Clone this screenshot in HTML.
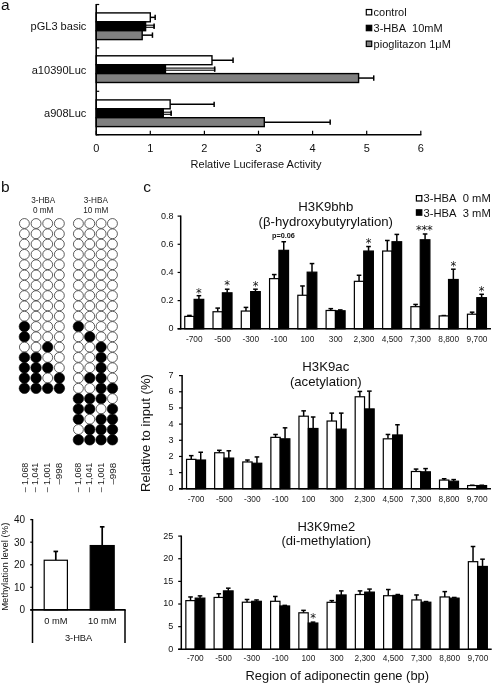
<!DOCTYPE html>
<html lang="en">
<head>
<meta charset="utf-8">
<title>Figure</title>
<style>
html,body{margin:0;padding:0;background:#fff;}
body{width:493px;height:685px;overflow:hidden;}
svg{display:block;font-family:"Liberation Sans", sans-serif;}
</style>
</head>
<body>
<svg width="493" height="685" viewBox="0 0 493 685">
<rect x="0" y="0" width="493" height="685" fill="#fff"/>
<text x="1" y="9.6" font-size="15.5" fill="#111">a</text>
<text x="1" y="192.1" font-size="15.5" fill="#111">b</text>
<text x="143.2" y="192.1" font-size="15.5" fill="#111">c</text>
<line x1="150.30" y1="17.35" x2="155.17" y2="17.35" stroke="#000" stroke-width="1.5"/>
<line x1="155.17" y1="14.65" x2="155.17" y2="20.05" stroke="#000" stroke-width="1.5"/>
<rect x="145.59" y="25.20" width="8.49" height="2.10" fill="#fff" stroke="#000" stroke-width="1.1"/>
<line x1="154.09" y1="23.55" x2="154.09" y2="28.95" stroke="#000" stroke-width="1.5"/>
<line x1="142.19" y1="35.15" x2="152.46" y2="35.15" stroke="#000" stroke-width="1.5"/>
<line x1="152.46" y1="32.45" x2="152.46" y2="37.85" stroke="#000" stroke-width="1.5"/>
<rect x="96.20" y="12.90" width="54.10" height="8.90" fill="#fff" stroke="#000" stroke-width="1.4"/>
<rect x="96.20" y="21.80" width="49.39" height="8.90" fill="#000" stroke="#000" stroke-width="1.4"/>
<rect x="96.20" y="30.70" width="45.98" height="8.90" fill="#808080" stroke="#000" stroke-width="1.4"/>
<text x="86.4" y="29.55" font-size="11.05" text-anchor="end" fill="#111">pGL3 basic</text>
<line x1="211.97" y1="60.25" x2="233.07" y2="60.25" stroke="#000" stroke-width="1.5"/>
<line x1="233.07" y1="57.55" x2="233.07" y2="62.95" stroke="#000" stroke-width="1.5"/>
<rect x="165.45" y="68.10" width="49.23" height="2.10" fill="#fff" stroke="#000" stroke-width="1.1"/>
<line x1="214.68" y1="66.45" x2="214.68" y2="71.85" stroke="#000" stroke-width="1.5"/>
<line x1="358.58" y1="78.05" x2="373.73" y2="78.05" stroke="#000" stroke-width="1.5"/>
<line x1="373.73" y1="75.35" x2="373.73" y2="80.75" stroke="#000" stroke-width="1.5"/>
<rect x="96.20" y="55.80" width="115.77" height="8.90" fill="#fff" stroke="#000" stroke-width="1.4"/>
<rect x="96.20" y="64.70" width="69.25" height="8.90" fill="#000" stroke="#000" stroke-width="1.4"/>
<rect x="96.20" y="73.60" width="262.38" height="8.90" fill="#808080" stroke="#000" stroke-width="1.4"/>
<text x="86.4" y="73.75" font-size="11.05" text-anchor="end" fill="#111">a10390Luc</text>
<line x1="170.15" y1="104.35" x2="214.14" y2="104.35" stroke="#000" stroke-width="1.5"/>
<line x1="214.14" y1="101.65" x2="214.14" y2="107.05" stroke="#000" stroke-width="1.5"/>
<rect x="163.28" y="112.20" width="7.84" height="2.10" fill="#fff" stroke="#000" stroke-width="1.1"/>
<line x1="171.13" y1="110.55" x2="171.13" y2="115.95" stroke="#000" stroke-width="1.5"/>
<line x1="264.29" y1="122.15" x2="330.18" y2="122.15" stroke="#000" stroke-width="1.5"/>
<line x1="330.18" y1="119.45" x2="330.18" y2="124.85" stroke="#000" stroke-width="1.5"/>
<rect x="96.20" y="99.90" width="73.95" height="8.90" fill="#fff" stroke="#000" stroke-width="1.4"/>
<rect x="96.20" y="108.80" width="67.08" height="8.90" fill="#000" stroke="#000" stroke-width="1.4"/>
<rect x="96.20" y="117.70" width="168.09" height="8.90" fill="#808080" stroke="#000" stroke-width="1.4"/>
<text x="86.4" y="116.55" font-size="11.05" text-anchor="end" fill="#111">a908Luc</text>
<line x1="96.20" y1="3.90" x2="96.20" y2="135.40" stroke="#000" stroke-width="1.6"/>
<line x1="96.20" y1="134.70" x2="421.40" y2="134.70" stroke="#000" stroke-width="1.6"/>
<line x1="96.20" y1="4.50" x2="99.20" y2="4.50" stroke="#000" stroke-width="1.2"/>
<line x1="96.20" y1="47.90" x2="99.20" y2="47.90" stroke="#000" stroke-width="1.2"/>
<line x1="96.20" y1="91.30" x2="99.20" y2="91.30" stroke="#000" stroke-width="1.2"/>
<line x1="96.20" y1="134.70" x2="99.20" y2="134.70" stroke="#000" stroke-width="1.2"/>
<line x1="96.20" y1="134.70" x2="96.20" y2="130.70" stroke="#000" stroke-width="1.2"/>
<text x="96.2" y="152.2" font-size="11" text-anchor="middle" fill="#111">0</text>
<line x1="150.30" y1="134.70" x2="150.30" y2="130.70" stroke="#000" stroke-width="1.2"/>
<text x="150.3" y="152.2" font-size="11" text-anchor="middle" fill="#111">1</text>
<line x1="204.40" y1="134.70" x2="204.40" y2="130.70" stroke="#000" stroke-width="1.2"/>
<text x="204.4" y="152.2" font-size="11" text-anchor="middle" fill="#111">2</text>
<line x1="258.50" y1="134.70" x2="258.50" y2="130.70" stroke="#000" stroke-width="1.2"/>
<text x="258.5" y="152.2" font-size="11" text-anchor="middle" fill="#111">3</text>
<line x1="312.60" y1="134.70" x2="312.60" y2="130.70" stroke="#000" stroke-width="1.2"/>
<text x="312.6" y="152.2" font-size="11" text-anchor="middle" fill="#111">4</text>
<line x1="366.70" y1="134.70" x2="366.70" y2="130.70" stroke="#000" stroke-width="1.2"/>
<text x="366.7" y="152.2" font-size="11" text-anchor="middle" fill="#111">5</text>
<line x1="420.80" y1="134.70" x2="420.80" y2="130.70" stroke="#000" stroke-width="1.2"/>
<text x="420.8" y="152.2" font-size="11" text-anchor="middle" fill="#111">6</text>
<text x="256" y="167.6" font-size="11" text-anchor="middle" fill="#111">Relative Luciferase Activity</text>
<rect x="366.30" y="9.50" width="5.40" height="5.40" fill="#fff" stroke="#000" stroke-width="1.2"/>
<text x="373.6" y="16.1" font-size="11" fill="#111">control</text>
<rect x="366.30" y="25.30" width="5.40" height="5.40" fill="#000" stroke="#000" stroke-width="1.2"/>
<text x="373.6" y="31.9" font-size="11" fill="#111">3-HBA  10mM</text>
<rect x="366.30" y="41.10" width="5.40" height="5.40" fill="#808080" stroke="#000" stroke-width="1.2"/>
<text x="373.6" y="47.7" font-size="11" fill="#111">pioglitazon 1μM</text>
<circle cx="24.40" cy="223.50" r="4.95" fill="#fff" stroke="#2a2a2a" stroke-width="0.75"/>
<circle cx="36.05" cy="223.50" r="4.95" fill="#fff" stroke="#2a2a2a" stroke-width="0.75"/>
<circle cx="47.70" cy="223.50" r="4.95" fill="#fff" stroke="#2a2a2a" stroke-width="0.75"/>
<circle cx="59.35" cy="223.50" r="4.95" fill="#fff" stroke="#2a2a2a" stroke-width="0.75"/>
<circle cx="24.40" cy="233.80" r="4.95" fill="#fff" stroke="#2a2a2a" stroke-width="0.75"/>
<circle cx="36.05" cy="233.80" r="4.95" fill="#fff" stroke="#2a2a2a" stroke-width="0.75"/>
<circle cx="47.70" cy="233.80" r="4.95" fill="#fff" stroke="#2a2a2a" stroke-width="0.75"/>
<circle cx="59.35" cy="233.80" r="4.95" fill="#fff" stroke="#2a2a2a" stroke-width="0.75"/>
<circle cx="24.40" cy="244.10" r="4.95" fill="#fff" stroke="#2a2a2a" stroke-width="0.75"/>
<circle cx="36.05" cy="244.10" r="4.95" fill="#fff" stroke="#2a2a2a" stroke-width="0.75"/>
<circle cx="47.70" cy="244.10" r="4.95" fill="#fff" stroke="#2a2a2a" stroke-width="0.75"/>
<circle cx="59.35" cy="244.10" r="4.95" fill="#fff" stroke="#2a2a2a" stroke-width="0.75"/>
<circle cx="24.40" cy="254.40" r="4.95" fill="#fff" stroke="#2a2a2a" stroke-width="0.75"/>
<circle cx="36.05" cy="254.40" r="4.95" fill="#fff" stroke="#2a2a2a" stroke-width="0.75"/>
<circle cx="47.70" cy="254.40" r="4.95" fill="#fff" stroke="#2a2a2a" stroke-width="0.75"/>
<circle cx="59.35" cy="254.40" r="4.95" fill="#fff" stroke="#2a2a2a" stroke-width="0.75"/>
<circle cx="24.40" cy="264.70" r="4.95" fill="#fff" stroke="#2a2a2a" stroke-width="0.75"/>
<circle cx="36.05" cy="264.70" r="4.95" fill="#fff" stroke="#2a2a2a" stroke-width="0.75"/>
<circle cx="47.70" cy="264.70" r="4.95" fill="#fff" stroke="#2a2a2a" stroke-width="0.75"/>
<circle cx="59.35" cy="264.70" r="4.95" fill="#fff" stroke="#2a2a2a" stroke-width="0.75"/>
<circle cx="24.40" cy="275.00" r="4.95" fill="#fff" stroke="#2a2a2a" stroke-width="0.75"/>
<circle cx="36.05" cy="275.00" r="4.95" fill="#fff" stroke="#2a2a2a" stroke-width="0.75"/>
<circle cx="47.70" cy="275.00" r="4.95" fill="#fff" stroke="#2a2a2a" stroke-width="0.75"/>
<circle cx="59.35" cy="275.00" r="4.95" fill="#fff" stroke="#2a2a2a" stroke-width="0.75"/>
<circle cx="24.40" cy="285.30" r="4.95" fill="#fff" stroke="#2a2a2a" stroke-width="0.75"/>
<circle cx="36.05" cy="285.30" r="4.95" fill="#fff" stroke="#2a2a2a" stroke-width="0.75"/>
<circle cx="47.70" cy="285.30" r="4.95" fill="#fff" stroke="#2a2a2a" stroke-width="0.75"/>
<circle cx="59.35" cy="285.30" r="4.95" fill="#fff" stroke="#2a2a2a" stroke-width="0.75"/>
<circle cx="24.40" cy="295.60" r="4.95" fill="#fff" stroke="#2a2a2a" stroke-width="0.75"/>
<circle cx="36.05" cy="295.60" r="4.95" fill="#fff" stroke="#2a2a2a" stroke-width="0.75"/>
<circle cx="47.70" cy="295.60" r="4.95" fill="#fff" stroke="#2a2a2a" stroke-width="0.75"/>
<circle cx="59.35" cy="295.60" r="4.95" fill="#fff" stroke="#2a2a2a" stroke-width="0.75"/>
<circle cx="24.40" cy="305.90" r="4.95" fill="#fff" stroke="#2a2a2a" stroke-width="0.75"/>
<circle cx="36.05" cy="305.90" r="4.95" fill="#fff" stroke="#2a2a2a" stroke-width="0.75"/>
<circle cx="47.70" cy="305.90" r="4.95" fill="#fff" stroke="#2a2a2a" stroke-width="0.75"/>
<circle cx="59.35" cy="305.90" r="4.95" fill="#fff" stroke="#2a2a2a" stroke-width="0.75"/>
<circle cx="24.40" cy="316.20" r="4.95" fill="#fff" stroke="#2a2a2a" stroke-width="0.75"/>
<circle cx="36.05" cy="316.20" r="4.95" fill="#fff" stroke="#2a2a2a" stroke-width="0.75"/>
<circle cx="47.70" cy="316.20" r="4.95" fill="#fff" stroke="#2a2a2a" stroke-width="0.75"/>
<circle cx="59.35" cy="316.20" r="4.95" fill="#fff" stroke="#2a2a2a" stroke-width="0.75"/>
<circle cx="24.40" cy="326.50" r="5.25" fill="#000" stroke="#000" stroke-width="0.6"/>
<circle cx="36.05" cy="326.50" r="4.95" fill="#fff" stroke="#2a2a2a" stroke-width="0.75"/>
<circle cx="47.70" cy="326.50" r="4.95" fill="#fff" stroke="#2a2a2a" stroke-width="0.75"/>
<circle cx="59.35" cy="326.50" r="4.95" fill="#fff" stroke="#2a2a2a" stroke-width="0.75"/>
<circle cx="24.40" cy="336.80" r="5.25" fill="#000" stroke="#000" stroke-width="0.6"/>
<circle cx="36.05" cy="336.80" r="4.95" fill="#fff" stroke="#2a2a2a" stroke-width="0.75"/>
<circle cx="47.70" cy="336.80" r="4.95" fill="#fff" stroke="#2a2a2a" stroke-width="0.75"/>
<circle cx="59.35" cy="336.80" r="4.95" fill="#fff" stroke="#2a2a2a" stroke-width="0.75"/>
<circle cx="24.40" cy="347.10" r="4.95" fill="#fff" stroke="#2a2a2a" stroke-width="0.75"/>
<circle cx="36.05" cy="347.10" r="4.95" fill="#fff" stroke="#2a2a2a" stroke-width="0.75"/>
<circle cx="47.70" cy="347.10" r="5.25" fill="#000" stroke="#000" stroke-width="0.6"/>
<circle cx="59.35" cy="347.10" r="4.95" fill="#fff" stroke="#2a2a2a" stroke-width="0.75"/>
<circle cx="24.40" cy="357.40" r="5.25" fill="#000" stroke="#000" stroke-width="0.6"/>
<circle cx="36.05" cy="357.40" r="5.25" fill="#000" stroke="#000" stroke-width="0.6"/>
<circle cx="47.70" cy="357.40" r="4.95" fill="#fff" stroke="#2a2a2a" stroke-width="0.75"/>
<circle cx="59.35" cy="357.40" r="4.95" fill="#fff" stroke="#2a2a2a" stroke-width="0.75"/>
<circle cx="24.40" cy="367.70" r="5.25" fill="#000" stroke="#000" stroke-width="0.6"/>
<circle cx="36.05" cy="367.70" r="5.25" fill="#000" stroke="#000" stroke-width="0.6"/>
<circle cx="47.70" cy="367.70" r="5.25" fill="#000" stroke="#000" stroke-width="0.6"/>
<circle cx="59.35" cy="367.70" r="4.95" fill="#fff" stroke="#2a2a2a" stroke-width="0.75"/>
<circle cx="24.40" cy="378.00" r="5.25" fill="#000" stroke="#000" stroke-width="0.6"/>
<circle cx="36.05" cy="378.00" r="5.25" fill="#000" stroke="#000" stroke-width="0.6"/>
<circle cx="47.70" cy="378.00" r="4.95" fill="#fff" stroke="#2a2a2a" stroke-width="0.75"/>
<circle cx="59.35" cy="378.00" r="5.25" fill="#000" stroke="#000" stroke-width="0.6"/>
<circle cx="24.40" cy="388.30" r="5.25" fill="#000" stroke="#000" stroke-width="0.6"/>
<circle cx="36.05" cy="388.30" r="5.25" fill="#000" stroke="#000" stroke-width="0.6"/>
<circle cx="47.70" cy="388.30" r="5.25" fill="#000" stroke="#000" stroke-width="0.6"/>
<circle cx="59.35" cy="388.30" r="5.25" fill="#000" stroke="#000" stroke-width="0.6"/>
<circle cx="78.40" cy="223.50" r="4.95" fill="#fff" stroke="#2a2a2a" stroke-width="0.75"/>
<circle cx="89.75" cy="223.50" r="4.95" fill="#fff" stroke="#2a2a2a" stroke-width="0.75"/>
<circle cx="101.10" cy="223.50" r="4.95" fill="#fff" stroke="#2a2a2a" stroke-width="0.75"/>
<circle cx="112.45" cy="223.50" r="4.95" fill="#fff" stroke="#2a2a2a" stroke-width="0.75"/>
<circle cx="78.40" cy="233.80" r="4.95" fill="#fff" stroke="#2a2a2a" stroke-width="0.75"/>
<circle cx="89.75" cy="233.80" r="4.95" fill="#fff" stroke="#2a2a2a" stroke-width="0.75"/>
<circle cx="101.10" cy="233.80" r="4.95" fill="#fff" stroke="#2a2a2a" stroke-width="0.75"/>
<circle cx="112.45" cy="233.80" r="4.95" fill="#fff" stroke="#2a2a2a" stroke-width="0.75"/>
<circle cx="78.40" cy="244.10" r="4.95" fill="#fff" stroke="#2a2a2a" stroke-width="0.75"/>
<circle cx="89.75" cy="244.10" r="4.95" fill="#fff" stroke="#2a2a2a" stroke-width="0.75"/>
<circle cx="101.10" cy="244.10" r="4.95" fill="#fff" stroke="#2a2a2a" stroke-width="0.75"/>
<circle cx="112.45" cy="244.10" r="4.95" fill="#fff" stroke="#2a2a2a" stroke-width="0.75"/>
<circle cx="78.40" cy="254.40" r="4.95" fill="#fff" stroke="#2a2a2a" stroke-width="0.75"/>
<circle cx="89.75" cy="254.40" r="4.95" fill="#fff" stroke="#2a2a2a" stroke-width="0.75"/>
<circle cx="101.10" cy="254.40" r="4.95" fill="#fff" stroke="#2a2a2a" stroke-width="0.75"/>
<circle cx="112.45" cy="254.40" r="4.95" fill="#fff" stroke="#2a2a2a" stroke-width="0.75"/>
<circle cx="78.40" cy="264.70" r="4.95" fill="#fff" stroke="#2a2a2a" stroke-width="0.75"/>
<circle cx="89.75" cy="264.70" r="4.95" fill="#fff" stroke="#2a2a2a" stroke-width="0.75"/>
<circle cx="101.10" cy="264.70" r="4.95" fill="#fff" stroke="#2a2a2a" stroke-width="0.75"/>
<circle cx="112.45" cy="264.70" r="4.95" fill="#fff" stroke="#2a2a2a" stroke-width="0.75"/>
<circle cx="78.40" cy="275.00" r="4.95" fill="#fff" stroke="#2a2a2a" stroke-width="0.75"/>
<circle cx="89.75" cy="275.00" r="4.95" fill="#fff" stroke="#2a2a2a" stroke-width="0.75"/>
<circle cx="101.10" cy="275.00" r="4.95" fill="#fff" stroke="#2a2a2a" stroke-width="0.75"/>
<circle cx="112.45" cy="275.00" r="4.95" fill="#fff" stroke="#2a2a2a" stroke-width="0.75"/>
<circle cx="78.40" cy="285.30" r="4.95" fill="#fff" stroke="#2a2a2a" stroke-width="0.75"/>
<circle cx="89.75" cy="285.30" r="4.95" fill="#fff" stroke="#2a2a2a" stroke-width="0.75"/>
<circle cx="101.10" cy="285.30" r="4.95" fill="#fff" stroke="#2a2a2a" stroke-width="0.75"/>
<circle cx="112.45" cy="285.30" r="4.95" fill="#fff" stroke="#2a2a2a" stroke-width="0.75"/>
<circle cx="78.40" cy="295.60" r="4.95" fill="#fff" stroke="#2a2a2a" stroke-width="0.75"/>
<circle cx="89.75" cy="295.60" r="4.95" fill="#fff" stroke="#2a2a2a" stroke-width="0.75"/>
<circle cx="101.10" cy="295.60" r="4.95" fill="#fff" stroke="#2a2a2a" stroke-width="0.75"/>
<circle cx="112.45" cy="295.60" r="4.95" fill="#fff" stroke="#2a2a2a" stroke-width="0.75"/>
<circle cx="78.40" cy="305.90" r="4.95" fill="#fff" stroke="#2a2a2a" stroke-width="0.75"/>
<circle cx="89.75" cy="305.90" r="4.95" fill="#fff" stroke="#2a2a2a" stroke-width="0.75"/>
<circle cx="101.10" cy="305.90" r="4.95" fill="#fff" stroke="#2a2a2a" stroke-width="0.75"/>
<circle cx="112.45" cy="305.90" r="4.95" fill="#fff" stroke="#2a2a2a" stroke-width="0.75"/>
<circle cx="78.40" cy="316.20" r="4.95" fill="#fff" stroke="#2a2a2a" stroke-width="0.75"/>
<circle cx="89.75" cy="316.20" r="4.95" fill="#fff" stroke="#2a2a2a" stroke-width="0.75"/>
<circle cx="101.10" cy="316.20" r="4.95" fill="#fff" stroke="#2a2a2a" stroke-width="0.75"/>
<circle cx="112.45" cy="316.20" r="4.95" fill="#fff" stroke="#2a2a2a" stroke-width="0.75"/>
<circle cx="78.40" cy="326.50" r="5.25" fill="#000" stroke="#000" stroke-width="0.6"/>
<circle cx="89.75" cy="326.50" r="4.95" fill="#fff" stroke="#2a2a2a" stroke-width="0.75"/>
<circle cx="101.10" cy="326.50" r="4.95" fill="#fff" stroke="#2a2a2a" stroke-width="0.75"/>
<circle cx="112.45" cy="326.50" r="4.95" fill="#fff" stroke="#2a2a2a" stroke-width="0.75"/>
<circle cx="78.40" cy="336.80" r="4.95" fill="#fff" stroke="#2a2a2a" stroke-width="0.75"/>
<circle cx="89.75" cy="336.80" r="5.25" fill="#000" stroke="#000" stroke-width="0.6"/>
<circle cx="101.10" cy="336.80" r="4.95" fill="#fff" stroke="#2a2a2a" stroke-width="0.75"/>
<circle cx="112.45" cy="336.80" r="4.95" fill="#fff" stroke="#2a2a2a" stroke-width="0.75"/>
<circle cx="78.40" cy="347.10" r="4.95" fill="#fff" stroke="#2a2a2a" stroke-width="0.75"/>
<circle cx="89.75" cy="347.10" r="4.95" fill="#fff" stroke="#2a2a2a" stroke-width="0.75"/>
<circle cx="101.10" cy="347.10" r="5.25" fill="#000" stroke="#000" stroke-width="0.6"/>
<circle cx="112.45" cy="347.10" r="4.95" fill="#fff" stroke="#2a2a2a" stroke-width="0.75"/>
<circle cx="78.40" cy="357.40" r="4.95" fill="#fff" stroke="#2a2a2a" stroke-width="0.75"/>
<circle cx="89.75" cy="357.40" r="4.95" fill="#fff" stroke="#2a2a2a" stroke-width="0.75"/>
<circle cx="101.10" cy="357.40" r="5.25" fill="#000" stroke="#000" stroke-width="0.6"/>
<circle cx="112.45" cy="357.40" r="4.95" fill="#fff" stroke="#2a2a2a" stroke-width="0.75"/>
<circle cx="78.40" cy="367.70" r="4.95" fill="#fff" stroke="#2a2a2a" stroke-width="0.75"/>
<circle cx="89.75" cy="367.70" r="4.95" fill="#fff" stroke="#2a2a2a" stroke-width="0.75"/>
<circle cx="101.10" cy="367.70" r="5.25" fill="#000" stroke="#000" stroke-width="0.6"/>
<circle cx="112.45" cy="367.70" r="4.95" fill="#fff" stroke="#2a2a2a" stroke-width="0.75"/>
<circle cx="78.40" cy="378.00" r="4.95" fill="#fff" stroke="#2a2a2a" stroke-width="0.75"/>
<circle cx="89.75" cy="378.00" r="5.25" fill="#000" stroke="#000" stroke-width="0.6"/>
<circle cx="101.10" cy="378.00" r="5.25" fill="#000" stroke="#000" stroke-width="0.6"/>
<circle cx="112.45" cy="378.00" r="4.95" fill="#fff" stroke="#2a2a2a" stroke-width="0.75"/>
<circle cx="78.40" cy="388.30" r="4.95" fill="#fff" stroke="#2a2a2a" stroke-width="0.75"/>
<circle cx="89.75" cy="388.30" r="4.95" fill="#fff" stroke="#2a2a2a" stroke-width="0.75"/>
<circle cx="101.10" cy="388.30" r="5.25" fill="#000" stroke="#000" stroke-width="0.6"/>
<circle cx="112.45" cy="388.30" r="5.25" fill="#000" stroke="#000" stroke-width="0.6"/>
<circle cx="78.40" cy="398.60" r="5.25" fill="#000" stroke="#000" stroke-width="0.6"/>
<circle cx="89.75" cy="398.60" r="5.25" fill="#000" stroke="#000" stroke-width="0.6"/>
<circle cx="101.10" cy="398.60" r="5.25" fill="#000" stroke="#000" stroke-width="0.6"/>
<circle cx="112.45" cy="398.60" r="4.95" fill="#fff" stroke="#2a2a2a" stroke-width="0.75"/>
<circle cx="78.40" cy="408.90" r="5.25" fill="#000" stroke="#000" stroke-width="0.6"/>
<circle cx="89.75" cy="408.90" r="5.25" fill="#000" stroke="#000" stroke-width="0.6"/>
<circle cx="101.10" cy="408.90" r="4.95" fill="#fff" stroke="#2a2a2a" stroke-width="0.75"/>
<circle cx="112.45" cy="408.90" r="5.25" fill="#000" stroke="#000" stroke-width="0.6"/>
<circle cx="78.40" cy="419.20" r="5.25" fill="#000" stroke="#000" stroke-width="0.6"/>
<circle cx="89.75" cy="419.20" r="4.95" fill="#fff" stroke="#2a2a2a" stroke-width="0.75"/>
<circle cx="101.10" cy="419.20" r="5.25" fill="#000" stroke="#000" stroke-width="0.6"/>
<circle cx="112.45" cy="419.20" r="5.25" fill="#000" stroke="#000" stroke-width="0.6"/>
<circle cx="78.40" cy="429.50" r="4.95" fill="#fff" stroke="#2a2a2a" stroke-width="0.75"/>
<circle cx="89.75" cy="429.50" r="5.25" fill="#000" stroke="#000" stroke-width="0.6"/>
<circle cx="101.10" cy="429.50" r="5.25" fill="#000" stroke="#000" stroke-width="0.6"/>
<circle cx="112.45" cy="429.50" r="5.25" fill="#000" stroke="#000" stroke-width="0.6"/>
<circle cx="78.40" cy="439.80" r="5.25" fill="#000" stroke="#000" stroke-width="0.6"/>
<circle cx="89.75" cy="439.80" r="5.25" fill="#000" stroke="#000" stroke-width="0.6"/>
<circle cx="101.10" cy="439.80" r="5.25" fill="#000" stroke="#000" stroke-width="0.6"/>
<circle cx="112.45" cy="439.80" r="5.25" fill="#000" stroke="#000" stroke-width="0.6"/>
<text x="43.2" y="203.0" font-size="8.2" text-anchor="middle" fill="#222">3-HBA</text>
<text x="43.2" y="212.8" font-size="8.2" text-anchor="middle" fill="#222">0 mM</text>
<text x="95.8" y="203.0" font-size="8.2" text-anchor="middle" fill="#222">3-HBA</text>
<text x="95.8" y="212.8" font-size="8.2" text-anchor="middle" fill="#222">10 mM</text>
<text x="27.6" y="462.7" font-size="9.4" text-anchor="end" transform="rotate(-90 27.6 462.7)" fill="#222" textLength="29.6" lengthAdjust="spacingAndGlyphs">– 1,068</text>
<text x="38.2" y="462.7" font-size="9.4" text-anchor="end" transform="rotate(-90 38.2 462.7)" fill="#222" textLength="29.6" lengthAdjust="spacingAndGlyphs">– 1,041</text>
<text x="49.8" y="462.7" font-size="9.4" text-anchor="end" transform="rotate(-90 49.8 462.7)" fill="#222" textLength="29.6" lengthAdjust="spacingAndGlyphs">– 1,001</text>
<text x="62.0" y="462.7" font-size="9.4" text-anchor="end" transform="rotate(-90 62.0 462.7)" fill="#222" textLength="21.9" lengthAdjust="spacingAndGlyphs">–998</text>
<text x="81.3" y="462.7" font-size="9.4" text-anchor="end" transform="rotate(-90 81.3 462.7)" fill="#222" textLength="29.6" lengthAdjust="spacingAndGlyphs">– 1,068</text>
<text x="92.3" y="462.7" font-size="9.4" text-anchor="end" transform="rotate(-90 92.3 462.7)" fill="#222" textLength="29.6" lengthAdjust="spacingAndGlyphs">– 1,041</text>
<text x="103.85" y="462.7" font-size="9.4" text-anchor="end" transform="rotate(-90 103.85 462.7)" fill="#222" textLength="29.6" lengthAdjust="spacingAndGlyphs">– 1,001</text>
<text x="115.6" y="462.7" font-size="9.4" text-anchor="end" transform="rotate(-90 115.6 462.7)" fill="#222" textLength="21.9" lengthAdjust="spacingAndGlyphs">–998</text>
<line x1="32.50" y1="519.00" x2="32.50" y2="643.00" stroke="#000" stroke-width="1.5"/>
<line x1="125.00" y1="609.90" x2="125.00" y2="643.00" stroke="#000" stroke-width="1.5"/>
<line x1="30.30" y1="609.90" x2="32.50" y2="609.90" stroke="#000" stroke-width="1.3"/>
<text x="25.0" y="613.4" font-size="10" text-anchor="end" fill="#111">0</text>
<line x1="30.30" y1="587.33" x2="32.50" y2="587.33" stroke="#000" stroke-width="1.3"/>
<text x="25.0" y="590.8" font-size="10" text-anchor="end" fill="#111">10</text>
<line x1="30.30" y1="564.75" x2="32.50" y2="564.75" stroke="#000" stroke-width="1.3"/>
<text x="25.0" y="568.2" font-size="10" text-anchor="end" fill="#111">20</text>
<line x1="30.30" y1="542.17" x2="32.50" y2="542.17" stroke="#000" stroke-width="1.3"/>
<text x="25.0" y="545.7" font-size="10" text-anchor="end" fill="#111">30</text>
<line x1="30.30" y1="519.60" x2="32.50" y2="519.60" stroke="#000" stroke-width="1.3"/>
<text x="25.0" y="523.1" font-size="10" text-anchor="end" fill="#111">40</text>
<line x1="55.80" y1="560.24" x2="55.80" y2="551.43" stroke="#000" stroke-width="1.7"/>
<line x1="53.50" y1="551.43" x2="58.10" y2="551.43" stroke="#000" stroke-width="1.7"/>
<rect x="44.20" y="560.24" width="23.20" height="49.66" fill="#fff" stroke="#000" stroke-width="1.2"/>
<line x1="102.20" y1="545.56" x2="102.20" y2="526.82" stroke="#000" stroke-width="1.7"/>
<line x1="99.90" y1="526.82" x2="104.50" y2="526.82" stroke="#000" stroke-width="1.7"/>
<rect x="90.20" y="545.56" width="24.00" height="64.34" fill="#000" stroke="#000" stroke-width="1.2"/>
<line x1="30.30" y1="609.90" x2="125.70" y2="609.90" stroke="#000" stroke-width="1.6"/>
<text x="55.8" y="624.3" font-size="9.3" text-anchor="middle" fill="#111">0 mM</text>
<text x="102.3" y="624.3" font-size="9.3" text-anchor="middle" fill="#111">10 mM</text>
<text x="78.6" y="641.3" font-size="9.3" text-anchor="middle" fill="#111">3-HBA</text>
<text x="8.0" y="610.8" font-size="9.5" transform="rotate(-90 8.0 610.8)" fill="#111">Methylation level (%)</text>
<line x1="189.43" y1="316.40" x2="189.43" y2="315.42" stroke="#000" stroke-width="1.5"/>
<line x1="187.12" y1="315.42" x2="191.73" y2="315.42" stroke="#000" stroke-width="1.5"/>
<rect x="184.75" y="316.40" width="9.35" height="12.40" fill="#fff" stroke="#000" stroke-width="1.2"/>
<line x1="198.92" y1="299.36" x2="198.92" y2="295.69" stroke="#000" stroke-width="1.5"/>
<line x1="196.62" y1="295.69" x2="201.22" y2="295.69" stroke="#000" stroke-width="1.5"/>
<rect x="194.10" y="299.36" width="9.65" height="29.44" fill="#000" stroke="#000" stroke-width="1.2"/>
<text x="194.3" y="342.0" font-size="8.3" text-anchor="middle" fill="#1a1a1a">-700</text>
<line x1="217.70" y1="311.75" x2="217.70" y2="308.09" stroke="#000" stroke-width="1.5"/>
<line x1="215.40" y1="308.09" x2="220.00" y2="308.09" stroke="#000" stroke-width="1.5"/>
<rect x="213.02" y="311.75" width="9.35" height="17.05" fill="#fff" stroke="#000" stroke-width="1.2"/>
<line x1="227.19" y1="292.81" x2="227.19" y2="289.21" stroke="#000" stroke-width="1.5"/>
<line x1="224.89" y1="289.21" x2="229.50" y2="289.21" stroke="#000" stroke-width="1.5"/>
<rect x="222.37" y="292.81" width="9.65" height="35.99" fill="#000" stroke="#000" stroke-width="1.2"/>
<text x="222.6" y="342.0" font-size="8.3" text-anchor="middle" fill="#1a1a1a">-500</text>
<line x1="245.97" y1="311.05" x2="245.97" y2="307.39" stroke="#000" stroke-width="1.5"/>
<line x1="243.66" y1="307.39" x2="248.27" y2="307.39" stroke="#000" stroke-width="1.5"/>
<rect x="241.29" y="311.05" width="9.35" height="17.75" fill="#fff" stroke="#000" stroke-width="1.2"/>
<line x1="255.46" y1="291.61" x2="255.46" y2="289.21" stroke="#000" stroke-width="1.5"/>
<line x1="253.16" y1="289.21" x2="257.76" y2="289.21" stroke="#000" stroke-width="1.5"/>
<rect x="250.64" y="291.61" width="9.65" height="37.19" fill="#000" stroke="#000" stroke-width="1.2"/>
<text x="250.8" y="342.0" font-size="8.3" text-anchor="middle" fill="#1a1a1a">-300</text>
<line x1="274.24" y1="278.65" x2="274.24" y2="274.56" stroke="#000" stroke-width="1.5"/>
<line x1="271.94" y1="274.56" x2="276.54" y2="274.56" stroke="#000" stroke-width="1.5"/>
<rect x="269.56" y="278.65" width="9.35" height="50.15" fill="#fff" stroke="#000" stroke-width="1.2"/>
<line x1="283.74" y1="250.33" x2="283.74" y2="241.74" stroke="#000" stroke-width="1.5"/>
<line x1="281.44" y1="241.74" x2="286.04" y2="241.74" stroke="#000" stroke-width="1.5"/>
<rect x="278.91" y="250.33" width="9.65" height="78.47" fill="#000" stroke="#000" stroke-width="1.2"/>
<text x="279.1" y="342.0" font-size="8.3" text-anchor="middle" fill="#1a1a1a">-100</text>
<line x1="302.50" y1="295.27" x2="302.50" y2="285.97" stroke="#000" stroke-width="1.5"/>
<line x1="300.20" y1="285.97" x2="304.81" y2="285.97" stroke="#000" stroke-width="1.5"/>
<rect x="297.83" y="295.27" width="9.35" height="33.53" fill="#fff" stroke="#000" stroke-width="1.2"/>
<line x1="312.00" y1="272.17" x2="312.00" y2="263.57" stroke="#000" stroke-width="1.5"/>
<line x1="309.70" y1="263.57" x2="314.31" y2="263.57" stroke="#000" stroke-width="1.5"/>
<rect x="307.18" y="272.17" width="9.65" height="56.63" fill="#000" stroke="#000" stroke-width="1.2"/>
<text x="307.4" y="342.0" font-size="8.3" text-anchor="middle" fill="#1a1a1a">100</text>
<line x1="330.78" y1="310.49" x2="330.78" y2="308.65" stroke="#000" stroke-width="1.5"/>
<line x1="328.48" y1="308.65" x2="333.08" y2="308.65" stroke="#000" stroke-width="1.5"/>
<rect x="326.10" y="310.49" width="9.35" height="18.31" fill="#fff" stroke="#000" stroke-width="1.2"/>
<line x1="340.28" y1="310.77" x2="340.28" y2="309.92" stroke="#000" stroke-width="1.5"/>
<line x1="337.98" y1="309.92" x2="342.58" y2="309.92" stroke="#000" stroke-width="1.5"/>
<rect x="335.45" y="310.77" width="9.65" height="18.03" fill="#000" stroke="#000" stroke-width="1.2"/>
<text x="335.7" y="342.0" font-size="8.3" text-anchor="middle" fill="#1a1a1a">300</text>
<line x1="359.05" y1="281.33" x2="359.05" y2="275.27" stroke="#000" stroke-width="1.5"/>
<line x1="356.75" y1="275.27" x2="361.35" y2="275.27" stroke="#000" stroke-width="1.5"/>
<rect x="354.37" y="281.33" width="9.35" height="47.47" fill="#fff" stroke="#000" stroke-width="1.2"/>
<line x1="368.55" y1="251.04" x2="368.55" y2="246.53" stroke="#000" stroke-width="1.5"/>
<line x1="366.25" y1="246.53" x2="370.85" y2="246.53" stroke="#000" stroke-width="1.5"/>
<rect x="363.72" y="251.04" width="9.65" height="77.76" fill="#000" stroke="#000" stroke-width="1.2"/>
<text x="363.9" y="342.0" font-size="8.3" text-anchor="middle" fill="#1a1a1a">2,300</text>
<line x1="387.31" y1="251.04" x2="387.31" y2="240.47" stroke="#000" stroke-width="1.5"/>
<line x1="385.01" y1="240.47" x2="389.62" y2="240.47" stroke="#000" stroke-width="1.5"/>
<rect x="382.64" y="251.04" width="9.35" height="77.76" fill="#fff" stroke="#000" stroke-width="1.2"/>
<line x1="396.81" y1="241.74" x2="396.81" y2="234.41" stroke="#000" stroke-width="1.5"/>
<line x1="394.51" y1="234.41" x2="399.12" y2="234.41" stroke="#000" stroke-width="1.5"/>
<rect x="391.99" y="241.74" width="9.65" height="87.06" fill="#000" stroke="#000" stroke-width="1.2"/>
<text x="392.2" y="342.0" font-size="8.3" text-anchor="middle" fill="#1a1a1a">4,500</text>
<line x1="415.58" y1="306.68" x2="415.58" y2="304.43" stroke="#000" stroke-width="1.5"/>
<line x1="413.28" y1="304.43" x2="417.88" y2="304.43" stroke="#000" stroke-width="1.5"/>
<rect x="410.91" y="306.68" width="9.35" height="22.12" fill="#fff" stroke="#000" stroke-width="1.2"/>
<line x1="425.08" y1="239.77" x2="425.08" y2="233.99" stroke="#000" stroke-width="1.5"/>
<line x1="422.78" y1="233.99" x2="427.38" y2="233.99" stroke="#000" stroke-width="1.5"/>
<rect x="420.26" y="239.77" width="9.65" height="89.03" fill="#000" stroke="#000" stroke-width="1.2"/>
<text x="420.5" y="342.0" font-size="8.3" text-anchor="middle" fill="#1a1a1a">7,300</text>
<line x1="443.86" y1="315.91" x2="443.86" y2="315.56" stroke="#000" stroke-width="1.5"/>
<line x1="441.56" y1="315.56" x2="446.16" y2="315.56" stroke="#000" stroke-width="1.5"/>
<rect x="439.18" y="315.91" width="9.35" height="12.89" fill="#fff" stroke="#000" stroke-width="1.2"/>
<line x1="453.36" y1="279.49" x2="453.36" y2="269.21" stroke="#000" stroke-width="1.5"/>
<line x1="451.06" y1="269.21" x2="455.66" y2="269.21" stroke="#000" stroke-width="1.5"/>
<rect x="448.53" y="279.49" width="9.65" height="49.31" fill="#000" stroke="#000" stroke-width="1.2"/>
<text x="448.7" y="342.0" font-size="8.3" text-anchor="middle" fill="#1a1a1a">8,800</text>
<line x1="472.12" y1="314.22" x2="472.12" y2="312.18" stroke="#000" stroke-width="1.5"/>
<line x1="469.82" y1="312.18" x2="474.43" y2="312.18" stroke="#000" stroke-width="1.5"/>
<rect x="467.45" y="314.22" width="9.35" height="14.58" fill="#fff" stroke="#000" stroke-width="1.2"/>
<line x1="481.62" y1="297.67" x2="481.62" y2="294.29" stroke="#000" stroke-width="1.5"/>
<line x1="479.32" y1="294.29" x2="483.93" y2="294.29" stroke="#000" stroke-width="1.5"/>
<rect x="476.80" y="297.67" width="9.65" height="31.13" fill="#000" stroke="#000" stroke-width="1.2"/>
<text x="477.0" y="342.0" font-size="8.3" text-anchor="middle" fill="#1a1a1a">9,700</text>
<line x1="180.70" y1="215.50" x2="180.70" y2="329.50" stroke="#000" stroke-width="1.5"/>
<line x1="177.60" y1="328.80" x2="491.00" y2="328.80" stroke="#000" stroke-width="1.6"/>
<line x1="177.60" y1="328.80" x2="180.70" y2="328.80" stroke="#000" stroke-width="1.2"/>
<text x="173.6" y="331.2" font-size="9" text-anchor="end" fill="#111">0</text>
<line x1="177.60" y1="300.62" x2="180.70" y2="300.62" stroke="#000" stroke-width="1.2"/>
<text x="173.6" y="303.0" font-size="9" text-anchor="end" fill="#111">0.2</text>
<line x1="177.60" y1="272.45" x2="180.70" y2="272.45" stroke="#000" stroke-width="1.2"/>
<text x="173.6" y="274.8" font-size="9" text-anchor="end" fill="#111">0.4</text>
<line x1="177.60" y1="244.28" x2="180.70" y2="244.28" stroke="#000" stroke-width="1.2"/>
<text x="173.6" y="246.7" font-size="9" text-anchor="end" fill="#111">0.6</text>
<line x1="177.60" y1="216.10" x2="180.70" y2="216.10" stroke="#000" stroke-width="1.2"/>
<text x="173.6" y="218.5" font-size="9" text-anchor="end" fill="#111">0.8</text>
<line x1="191.23" y1="459.37" x2="191.23" y2="455.65" stroke="#000" stroke-width="1.5"/>
<line x1="188.93" y1="455.65" x2="193.53" y2="455.65" stroke="#000" stroke-width="1.5"/>
<rect x="186.55" y="459.37" width="9.35" height="29.43" fill="#fff" stroke="#000" stroke-width="1.2"/>
<line x1="200.72" y1="460.01" x2="200.72" y2="452.25" stroke="#000" stroke-width="1.5"/>
<line x1="198.42" y1="452.25" x2="203.03" y2="452.25" stroke="#000" stroke-width="1.5"/>
<rect x="195.90" y="460.01" width="9.65" height="28.79" fill="#000" stroke="#000" stroke-width="1.2"/>
<text x="196.1" y="501.8" font-size="8.3" text-anchor="middle" fill="#1a1a1a">-700</text>
<line x1="219.33" y1="452.74" x2="219.33" y2="450.31" stroke="#000" stroke-width="1.5"/>
<line x1="217.03" y1="450.31" x2="221.63" y2="450.31" stroke="#000" stroke-width="1.5"/>
<rect x="214.66" y="452.74" width="9.35" height="36.06" fill="#fff" stroke="#000" stroke-width="1.2"/>
<line x1="228.83" y1="458.07" x2="228.83" y2="450.80" stroke="#000" stroke-width="1.5"/>
<line x1="226.53" y1="450.80" x2="231.13" y2="450.80" stroke="#000" stroke-width="1.5"/>
<rect x="224.00" y="458.07" width="9.65" height="30.73" fill="#000" stroke="#000" stroke-width="1.2"/>
<text x="224.2" y="501.8" font-size="8.3" text-anchor="middle" fill="#1a1a1a">-500</text>
<line x1="247.44" y1="461.96" x2="247.44" y2="460.01" stroke="#000" stroke-width="1.5"/>
<line x1="245.14" y1="460.01" x2="249.74" y2="460.01" stroke="#000" stroke-width="1.5"/>
<rect x="242.76" y="461.96" width="9.35" height="26.84" fill="#fff" stroke="#000" stroke-width="1.2"/>
<line x1="256.94" y1="463.25" x2="256.94" y2="456.94" stroke="#000" stroke-width="1.5"/>
<line x1="254.63" y1="456.94" x2="259.24" y2="456.94" stroke="#000" stroke-width="1.5"/>
<rect x="252.11" y="463.25" width="9.65" height="25.55" fill="#000" stroke="#000" stroke-width="1.2"/>
<text x="252.3" y="501.8" font-size="8.3" text-anchor="middle" fill="#1a1a1a">-300</text>
<line x1="275.54" y1="437.37" x2="275.54" y2="434.46" stroke="#000" stroke-width="1.5"/>
<line x1="273.24" y1="434.46" x2="277.84" y2="434.46" stroke="#000" stroke-width="1.5"/>
<rect x="270.87" y="437.37" width="9.35" height="51.43" fill="#fff" stroke="#000" stroke-width="1.2"/>
<line x1="285.04" y1="438.83" x2="285.04" y2="427.83" stroke="#000" stroke-width="1.5"/>
<line x1="282.74" y1="427.83" x2="287.34" y2="427.83" stroke="#000" stroke-width="1.5"/>
<rect x="280.22" y="438.83" width="9.65" height="49.97" fill="#000" stroke="#000" stroke-width="1.2"/>
<text x="280.4" y="501.8" font-size="8.3" text-anchor="middle" fill="#1a1a1a">-100</text>
<line x1="303.65" y1="416.19" x2="303.65" y2="410.85" stroke="#000" stroke-width="1.5"/>
<line x1="301.35" y1="410.85" x2="305.95" y2="410.85" stroke="#000" stroke-width="1.5"/>
<rect x="298.97" y="416.19" width="9.35" height="72.61" fill="#fff" stroke="#000" stroke-width="1.2"/>
<line x1="313.15" y1="428.48" x2="313.15" y2="417.00" stroke="#000" stroke-width="1.5"/>
<line x1="310.85" y1="417.00" x2="315.45" y2="417.00" stroke="#000" stroke-width="1.5"/>
<rect x="308.32" y="428.48" width="9.65" height="60.32" fill="#000" stroke="#000" stroke-width="1.2"/>
<text x="308.5" y="501.8" font-size="8.3" text-anchor="middle" fill="#1a1a1a">100</text>
<line x1="331.75" y1="421.04" x2="331.75" y2="413.12" stroke="#000" stroke-width="1.5"/>
<line x1="329.45" y1="413.12" x2="334.05" y2="413.12" stroke="#000" stroke-width="1.5"/>
<rect x="327.08" y="421.04" width="9.35" height="67.76" fill="#fff" stroke="#000" stroke-width="1.2"/>
<line x1="341.25" y1="429.13" x2="341.25" y2="413.12" stroke="#000" stroke-width="1.5"/>
<line x1="338.95" y1="413.12" x2="343.55" y2="413.12" stroke="#000" stroke-width="1.5"/>
<rect x="336.43" y="429.13" width="9.65" height="59.67" fill="#000" stroke="#000" stroke-width="1.2"/>
<text x="336.6" y="501.8" font-size="8.3" text-anchor="middle" fill="#1a1a1a">300</text>
<line x1="359.86" y1="396.78" x2="359.86" y2="391.45" stroke="#000" stroke-width="1.5"/>
<line x1="357.56" y1="391.45" x2="362.16" y2="391.45" stroke="#000" stroke-width="1.5"/>
<rect x="355.18" y="396.78" width="9.35" height="92.02" fill="#fff" stroke="#000" stroke-width="1.2"/>
<line x1="369.36" y1="408.91" x2="369.36" y2="391.12" stroke="#000" stroke-width="1.5"/>
<line x1="367.06" y1="391.12" x2="371.66" y2="391.12" stroke="#000" stroke-width="1.5"/>
<rect x="364.53" y="408.91" width="9.65" height="79.89" fill="#000" stroke="#000" stroke-width="1.2"/>
<text x="364.7" y="501.8" font-size="8.3" text-anchor="middle" fill="#1a1a1a">2,300</text>
<line x1="387.96" y1="438.83" x2="387.96" y2="434.46" stroke="#000" stroke-width="1.5"/>
<line x1="385.66" y1="434.46" x2="390.26" y2="434.46" stroke="#000" stroke-width="1.5"/>
<rect x="383.29" y="438.83" width="9.35" height="49.97" fill="#fff" stroke="#000" stroke-width="1.2"/>
<line x1="397.46" y1="434.95" x2="397.46" y2="424.76" stroke="#000" stroke-width="1.5"/>
<line x1="395.16" y1="424.76" x2="399.76" y2="424.76" stroke="#000" stroke-width="1.5"/>
<rect x="392.64" y="434.95" width="9.65" height="53.85" fill="#000" stroke="#000" stroke-width="1.2"/>
<text x="392.8" y="501.8" font-size="8.3" text-anchor="middle" fill="#1a1a1a">4,500</text>
<line x1="416.06" y1="471.50" x2="416.06" y2="469.07" stroke="#000" stroke-width="1.5"/>
<line x1="413.76" y1="469.07" x2="418.37" y2="469.07" stroke="#000" stroke-width="1.5"/>
<rect x="411.39" y="471.50" width="9.35" height="17.30" fill="#fff" stroke="#000" stroke-width="1.2"/>
<line x1="425.56" y1="471.82" x2="425.56" y2="468.59" stroke="#000" stroke-width="1.5"/>
<line x1="423.26" y1="468.59" x2="427.87" y2="468.59" stroke="#000" stroke-width="1.5"/>
<rect x="420.74" y="471.82" width="9.65" height="16.98" fill="#000" stroke="#000" stroke-width="1.2"/>
<text x="420.9" y="501.8" font-size="8.3" text-anchor="middle" fill="#1a1a1a">7,300</text>
<line x1="444.17" y1="480.07" x2="444.17" y2="478.77" stroke="#000" stroke-width="1.5"/>
<line x1="441.87" y1="478.77" x2="446.47" y2="478.77" stroke="#000" stroke-width="1.5"/>
<rect x="439.50" y="480.07" width="9.35" height="8.73" fill="#fff" stroke="#000" stroke-width="1.2"/>
<line x1="453.67" y1="481.20" x2="453.67" y2="479.58" stroke="#000" stroke-width="1.5"/>
<line x1="451.37" y1="479.58" x2="455.97" y2="479.58" stroke="#000" stroke-width="1.5"/>
<rect x="448.85" y="481.20" width="9.65" height="7.60" fill="#000" stroke="#000" stroke-width="1.2"/>
<text x="449.0" y="501.8" font-size="8.3" text-anchor="middle" fill="#1a1a1a">8,800</text>
<line x1="472.28" y1="485.57" x2="472.28" y2="485.24" stroke="#000" stroke-width="1.5"/>
<line x1="469.98" y1="485.24" x2="474.58" y2="485.24" stroke="#000" stroke-width="1.5"/>
<rect x="467.60" y="485.57" width="9.35" height="3.23" fill="#fff" stroke="#000" stroke-width="1.2"/>
<line x1="481.78" y1="485.57" x2="481.78" y2="485.24" stroke="#000" stroke-width="1.5"/>
<line x1="479.48" y1="485.24" x2="484.08" y2="485.24" stroke="#000" stroke-width="1.5"/>
<rect x="476.95" y="485.57" width="9.65" height="3.23" fill="#000" stroke="#000" stroke-width="1.2"/>
<text x="477.2" y="501.8" font-size="8.3" text-anchor="middle" fill="#1a1a1a">9,700</text>
<line x1="182.10" y1="375.00" x2="182.10" y2="489.50" stroke="#000" stroke-width="1.5"/>
<line x1="179.00" y1="488.80" x2="491.00" y2="488.80" stroke="#000" stroke-width="1.6"/>
<line x1="179.00" y1="488.80" x2="182.10" y2="488.80" stroke="#000" stroke-width="1.2"/>
<text x="173.4" y="491.2" font-size="9" text-anchor="end" fill="#111">0</text>
<line x1="179.00" y1="472.63" x2="182.10" y2="472.63" stroke="#000" stroke-width="1.2"/>
<text x="173.4" y="475.0" font-size="9" text-anchor="end" fill="#111">1</text>
<line x1="179.00" y1="456.46" x2="182.10" y2="456.46" stroke="#000" stroke-width="1.2"/>
<text x="173.4" y="458.9" font-size="9" text-anchor="end" fill="#111">2</text>
<line x1="179.00" y1="440.29" x2="182.10" y2="440.29" stroke="#000" stroke-width="1.2"/>
<text x="173.4" y="442.7" font-size="9" text-anchor="end" fill="#111">3</text>
<line x1="179.00" y1="424.11" x2="182.10" y2="424.11" stroke="#000" stroke-width="1.2"/>
<text x="173.4" y="426.5" font-size="9" text-anchor="end" fill="#111">4</text>
<line x1="179.00" y1="407.94" x2="182.10" y2="407.94" stroke="#000" stroke-width="1.2"/>
<text x="173.4" y="410.3" font-size="9" text-anchor="end" fill="#111">5</text>
<line x1="179.00" y1="391.77" x2="182.10" y2="391.77" stroke="#000" stroke-width="1.2"/>
<text x="173.4" y="394.2" font-size="9" text-anchor="end" fill="#111">6</text>
<line x1="179.00" y1="375.60" x2="182.10" y2="375.60" stroke="#000" stroke-width="1.2"/>
<text x="173.4" y="378.0" font-size="9" text-anchor="end" fill="#111">7</text>
<line x1="190.53" y1="600.62" x2="190.53" y2="596.96" stroke="#000" stroke-width="1.5"/>
<line x1="188.22" y1="596.96" x2="192.83" y2="596.96" stroke="#000" stroke-width="1.5"/>
<rect x="185.85" y="600.62" width="9.35" height="48.68" fill="#fff" stroke="#000" stroke-width="1.2"/>
<line x1="200.02" y1="598.13" x2="200.02" y2="595.87" stroke="#000" stroke-width="1.5"/>
<line x1="197.72" y1="595.87" x2="202.32" y2="595.87" stroke="#000" stroke-width="1.5"/>
<rect x="195.20" y="598.13" width="9.65" height="51.17" fill="#000" stroke="#000" stroke-width="1.2"/>
<text x="195.4" y="660.7" font-size="8.3" text-anchor="middle" fill="#1a1a1a">-700</text>
<line x1="218.78" y1="597.45" x2="218.78" y2="593.79" stroke="#000" stroke-width="1.5"/>
<line x1="216.47" y1="593.79" x2="221.08" y2="593.79" stroke="#000" stroke-width="1.5"/>
<rect x="214.10" y="597.45" width="9.35" height="51.85" fill="#fff" stroke="#000" stroke-width="1.2"/>
<line x1="228.27" y1="590.89" x2="228.27" y2="588.17" stroke="#000" stroke-width="1.5"/>
<line x1="225.97" y1="588.17" x2="230.57" y2="588.17" stroke="#000" stroke-width="1.5"/>
<rect x="223.45" y="590.89" width="9.65" height="58.41" fill="#000" stroke="#000" stroke-width="1.2"/>
<text x="223.6" y="660.7" font-size="8.3" text-anchor="middle" fill="#1a1a1a">-500</text>
<line x1="247.03" y1="602.21" x2="247.03" y2="599.49" stroke="#000" stroke-width="1.5"/>
<line x1="244.72" y1="599.49" x2="249.33" y2="599.49" stroke="#000" stroke-width="1.5"/>
<rect x="242.35" y="602.21" width="9.35" height="47.09" fill="#fff" stroke="#000" stroke-width="1.2"/>
<line x1="256.52" y1="601.30" x2="256.52" y2="599.94" stroke="#000" stroke-width="1.5"/>
<line x1="254.22" y1="599.94" x2="258.82" y2="599.94" stroke="#000" stroke-width="1.5"/>
<rect x="251.70" y="601.30" width="9.65" height="48.00" fill="#000" stroke="#000" stroke-width="1.2"/>
<text x="251.9" y="660.7" font-size="8.3" text-anchor="middle" fill="#1a1a1a">-300</text>
<line x1="275.28" y1="601.30" x2="275.28" y2="596.46" stroke="#000" stroke-width="1.5"/>
<line x1="272.98" y1="596.46" x2="277.58" y2="596.46" stroke="#000" stroke-width="1.5"/>
<rect x="270.60" y="601.30" width="9.35" height="48.00" fill="#fff" stroke="#000" stroke-width="1.2"/>
<line x1="284.78" y1="605.97" x2="284.78" y2="605.38" stroke="#000" stroke-width="1.5"/>
<line x1="282.48" y1="605.38" x2="287.08" y2="605.38" stroke="#000" stroke-width="1.5"/>
<rect x="279.95" y="605.97" width="9.65" height="43.33" fill="#000" stroke="#000" stroke-width="1.2"/>
<text x="280.2" y="660.7" font-size="8.3" text-anchor="middle" fill="#1a1a1a">-100</text>
<line x1="303.53" y1="612.80" x2="303.53" y2="610.36" stroke="#000" stroke-width="1.5"/>
<line x1="301.23" y1="610.36" x2="305.83" y2="610.36" stroke="#000" stroke-width="1.5"/>
<rect x="298.85" y="612.80" width="9.35" height="36.50" fill="#fff" stroke="#000" stroke-width="1.2"/>
<line x1="313.03" y1="623.04" x2="313.03" y2="622.13" stroke="#000" stroke-width="1.5"/>
<line x1="310.73" y1="622.13" x2="315.33" y2="622.13" stroke="#000" stroke-width="1.5"/>
<rect x="308.20" y="623.04" width="9.65" height="26.26" fill="#000" stroke="#000" stroke-width="1.2"/>
<text x="308.4" y="660.7" font-size="8.3" text-anchor="middle" fill="#1a1a1a">100</text>
<line x1="331.78" y1="602.30" x2="331.78" y2="600.62" stroke="#000" stroke-width="1.5"/>
<line x1="329.48" y1="600.62" x2="334.08" y2="600.62" stroke="#000" stroke-width="1.5"/>
<rect x="327.10" y="602.30" width="9.35" height="47.00" fill="#fff" stroke="#000" stroke-width="1.2"/>
<line x1="341.28" y1="594.96" x2="341.28" y2="590.89" stroke="#000" stroke-width="1.5"/>
<line x1="338.98" y1="590.89" x2="343.58" y2="590.89" stroke="#000" stroke-width="1.5"/>
<rect x="336.45" y="594.96" width="9.65" height="54.34" fill="#000" stroke="#000" stroke-width="1.2"/>
<text x="336.7" y="660.7" font-size="8.3" text-anchor="middle" fill="#1a1a1a">300</text>
<line x1="360.03" y1="594.51" x2="360.03" y2="590.89" stroke="#000" stroke-width="1.5"/>
<line x1="357.73" y1="590.89" x2="362.33" y2="590.89" stroke="#000" stroke-width="1.5"/>
<rect x="355.35" y="594.51" width="9.35" height="54.79" fill="#fff" stroke="#000" stroke-width="1.2"/>
<line x1="369.53" y1="592.11" x2="369.53" y2="589.08" stroke="#000" stroke-width="1.5"/>
<line x1="367.23" y1="589.08" x2="371.83" y2="589.08" stroke="#000" stroke-width="1.5"/>
<rect x="364.70" y="592.11" width="9.65" height="57.19" fill="#000" stroke="#000" stroke-width="1.2"/>
<text x="364.9" y="660.7" font-size="8.3" text-anchor="middle" fill="#1a1a1a">2,300</text>
<line x1="388.28" y1="595.73" x2="388.28" y2="589.53" stroke="#000" stroke-width="1.5"/>
<line x1="385.98" y1="589.53" x2="390.58" y2="589.53" stroke="#000" stroke-width="1.5"/>
<rect x="383.60" y="595.73" width="9.35" height="53.57" fill="#fff" stroke="#000" stroke-width="1.2"/>
<line x1="397.78" y1="595.42" x2="397.78" y2="594.51" stroke="#000" stroke-width="1.5"/>
<line x1="395.48" y1="594.51" x2="400.08" y2="594.51" stroke="#000" stroke-width="1.5"/>
<rect x="392.95" y="595.42" width="9.65" height="53.88" fill="#000" stroke="#000" stroke-width="1.2"/>
<text x="393.2" y="660.7" font-size="8.3" text-anchor="middle" fill="#1a1a1a">4,500</text>
<line x1="416.53" y1="599.94" x2="416.53" y2="594.96" stroke="#000" stroke-width="1.5"/>
<line x1="414.23" y1="594.96" x2="418.83" y2="594.96" stroke="#000" stroke-width="1.5"/>
<rect x="411.85" y="599.94" width="9.35" height="49.36" fill="#fff" stroke="#000" stroke-width="1.2"/>
<line x1="426.03" y1="602.21" x2="426.03" y2="601.53" stroke="#000" stroke-width="1.5"/>
<line x1="423.73" y1="601.53" x2="428.33" y2="601.53" stroke="#000" stroke-width="1.5"/>
<rect x="421.20" y="602.21" width="9.65" height="47.09" fill="#000" stroke="#000" stroke-width="1.2"/>
<text x="421.4" y="660.7" font-size="8.3" text-anchor="middle" fill="#1a1a1a">7,300</text>
<line x1="444.78" y1="596.96" x2="444.78" y2="591.61" stroke="#000" stroke-width="1.5"/>
<line x1="442.48" y1="591.61" x2="447.08" y2="591.61" stroke="#000" stroke-width="1.5"/>
<rect x="440.10" y="596.96" width="9.35" height="52.34" fill="#fff" stroke="#000" stroke-width="1.2"/>
<line x1="454.28" y1="598.13" x2="454.28" y2="597.45" stroke="#000" stroke-width="1.5"/>
<line x1="451.98" y1="597.45" x2="456.58" y2="597.45" stroke="#000" stroke-width="1.5"/>
<rect x="449.45" y="598.13" width="9.65" height="51.17" fill="#000" stroke="#000" stroke-width="1.2"/>
<text x="449.7" y="660.7" font-size="8.3" text-anchor="middle" fill="#1a1a1a">8,800</text>
<line x1="473.03" y1="561.68" x2="473.03" y2="546.51" stroke="#000" stroke-width="1.5"/>
<line x1="470.73" y1="546.51" x2="475.33" y2="546.51" stroke="#000" stroke-width="1.5"/>
<rect x="468.35" y="561.68" width="9.35" height="87.62" fill="#fff" stroke="#000" stroke-width="1.2"/>
<line x1="482.53" y1="566.44" x2="482.53" y2="559.19" stroke="#000" stroke-width="1.5"/>
<line x1="480.23" y1="559.19" x2="484.83" y2="559.19" stroke="#000" stroke-width="1.5"/>
<rect x="477.70" y="566.44" width="9.65" height="82.86" fill="#000" stroke="#000" stroke-width="1.2"/>
<text x="477.9" y="660.7" font-size="8.3" text-anchor="middle" fill="#1a1a1a">9,700</text>
<line x1="181.30" y1="535.50" x2="181.30" y2="650.00" stroke="#000" stroke-width="1.5"/>
<line x1="178.20" y1="649.30" x2="491.70" y2="649.30" stroke="#000" stroke-width="1.6"/>
<line x1="178.20" y1="649.30" x2="181.30" y2="649.30" stroke="#000" stroke-width="1.2"/>
<text x="173.2" y="651.7" font-size="9" text-anchor="end" fill="#111">0</text>
<line x1="178.20" y1="626.66" x2="181.30" y2="626.66" stroke="#000" stroke-width="1.2"/>
<text x="173.2" y="629.1" font-size="9" text-anchor="end" fill="#111">5</text>
<line x1="178.20" y1="604.02" x2="181.30" y2="604.02" stroke="#000" stroke-width="1.2"/>
<text x="173.2" y="606.4" font-size="9" text-anchor="end" fill="#111">10</text>
<line x1="178.20" y1="581.38" x2="181.30" y2="581.38" stroke="#000" stroke-width="1.2"/>
<text x="173.2" y="583.8" font-size="9" text-anchor="end" fill="#111">15</text>
<line x1="178.20" y1="558.74" x2="181.30" y2="558.74" stroke="#000" stroke-width="1.2"/>
<text x="173.2" y="561.1" font-size="9" text-anchor="end" fill="#111">20</text>
<line x1="178.20" y1="536.10" x2="181.30" y2="536.10" stroke="#000" stroke-width="1.2"/>
<text x="173.2" y="538.5" font-size="9" text-anchor="end" fill="#111">25</text>
<text x="325.8" y="211.3" font-size="13.2" text-anchor="middle" fill="#111">H3K9bhb</text>
<text x="325.8" y="225.9" font-size="13.2" text-anchor="middle" fill="#111">(β-hydroxybutyrylation)</text>
<text x="325.8" y="370.9" font-size="13.2" text-anchor="middle" fill="#111">H3K9ac</text>
<text x="325.8" y="385.5" font-size="13.2" text-anchor="middle" fill="#111">(acetylation)</text>
<text x="326.3" y="531.2" font-size="13.0" text-anchor="middle" fill="#111">H3K9me2</text>
<text x="326.3" y="544.9" font-size="13.0" text-anchor="middle" fill="#111">(di-methylation)</text>
<rect x="416.40" y="195.60" width="5.40" height="5.40" fill="#fff" stroke="#000" stroke-width="1.2"/>
<text x="423.6" y="202.3" font-size="11.2" fill="#111">3-HBA  0 mM</text>
<rect x="416.40" y="209.80" width="5.40" height="5.40" fill="#000" stroke="#000" stroke-width="1.2"/>
<text x="423.6" y="216.5" font-size="11.2" fill="#111">3-HBA  3 mM</text>
<text x="198.8" y="296.6" font-size="11.5" text-anchor="middle" fill="#111" font-family="DejaVu Sans, Liberation Sans, sans-serif">*</text>
<text x="227.2" y="289.4" font-size="11.5" text-anchor="middle" fill="#111" font-family="DejaVu Sans, Liberation Sans, sans-serif">*</text>
<text x="255.6" y="289.6" font-size="11.5" text-anchor="middle" fill="#111" font-family="DejaVu Sans, Liberation Sans, sans-serif">*</text>
<text x="368.7" y="247.0" font-size="11.5" text-anchor="middle" fill="#111" font-family="DejaVu Sans, Liberation Sans, sans-serif">*</text>
<text x="453.3" y="269.8" font-size="11.5" text-anchor="middle" fill="#111" font-family="DejaVu Sans, Liberation Sans, sans-serif">*</text>
<text x="481.6" y="294.8" font-size="11.5" text-anchor="middle" fill="#111" font-family="DejaVu Sans, Liberation Sans, sans-serif">*</text>
<text x="424.3" y="234.2" font-size="11.5" text-anchor="middle" fill="#111" letter-spacing="-0.3" font-family="DejaVu Sans, Liberation Sans, sans-serif">***</text>
<text x="313.2" y="621.9" font-size="11.5" text-anchor="middle" fill="#111" font-family="DejaVu Sans, Liberation Sans, sans-serif">*</text>
<text x="272.0" y="237.8" font-size="7.3" font-weight="bold" fill="#111">p=0.06</text>
<text x="149.5" y="492.0" font-size="13.1" transform="rotate(-90 149.5 492.0)" fill="#111">Relative to input (%)</text>
<text x="337.3" y="680.3" font-size="12.9" text-anchor="middle" fill="#111">Region of adiponectin gene (bp)</text>
</svg>
</body>
</html>
